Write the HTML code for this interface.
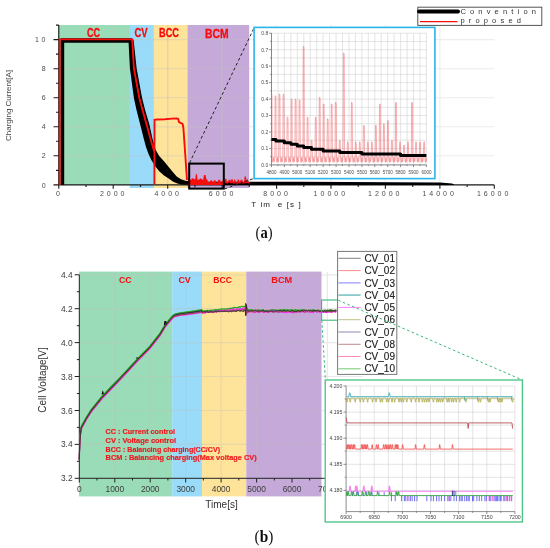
<!DOCTYPE html>
<html lang="en">
<head>
<meta charset="utf-8">
<title>Charging current and cell voltage</title>
<style>
html,body{margin:0;padding:0;background:#fff;}
body{width:550px;height:548px;overflow:hidden;font-family:'Liberation Sans',Arial,sans-serif;}
svg{display:block;}
</style>
</head>
<body>
<svg width="550" height="548" viewBox="0 0 550 548">
<defs><filter id="soft" x="0" y="0" width="550" height="548" filterUnits="userSpaceOnUse"><feGaussianBlur stdDeviation="0.42"/></filter></defs>
<rect width="550" height="548" fill="#fff"/>
<g filter="url(#soft)">
<g id="top">
<rect x="58" y="25" width="72" height="160" fill="#9bdcb8"/>
<rect x="129.8" y="25" width="24.2" height="163" fill="#99dbf8"/>
<rect x="153.8" y="25" width="33.9" height="163" fill="#fee49b"/>
<rect x="187.5" y="25" width="61.7" height="163" fill="#c4a9d9"/>
<path d="M113.2 25V184.9M167.7 25V184.9M222.1 25V184.9" stroke="#c2c2c2" stroke-opacity=".5" stroke-width="1.3" fill="none"/>
<path d="M58.8 155.8H249.2M58.8 126.8H249.2M58.8 97.7H249.2M58.8 68.7H249.2M58.8 39.6H249.2" stroke="#c8c0c0" stroke-opacity=".38" stroke-width="1.2" fill="none"/>
<path d="M276.6 25V184.9M331 25V184.9M385.4 25V184.9M439.9 25V184.9M249.2 155.8H494.3M249.2 126.8H494.3M249.2 97.7H494.3M249.2 68.7H494.3M249.2 39.6H494.3" stroke="#c2c2c2" stroke-opacity=".3" stroke-width="1.1" fill="none"/>
<path d="M58.8 25V184.9M53.5 184.9H494.3M58.8 184.9h-5.3M58.8 170.4h-2.8M58.8 155.8h-5.3M58.8 141.3h-2.8M58.8 126.8h-5.3M58.8 112.3h-2.8M58.8 97.7h-5.3M58.8 83.2h-2.8M58.8 68.7h-5.3M58.8 54.1h-2.8M58.8 39.6h-5.3M58.8 25.1h-2.8M58.8 184.9v3.8M86 184.9v2M113.2 184.9v3.8M140.5 184.9v2M167.7 184.9v3.8M194.9 184.9v2M222.1 184.9v3.8M249.3 184.9v2M276.6 184.9v3.8M303.8 184.9v2M331 184.9v3.8M358.2 184.9v2M385.4 184.9v3.8M412.7 184.9v2M439.9 184.9v3.8M467.1 184.9v2M494.3 184.9v3.8" stroke="#1a1a1a" stroke-width="1.1" fill="none"/>
<g font-family="'Liberation Sans', Arial, sans-serif" font-size="7" fill="#4c4c4c">
<text x="45.6" y="187.5" text-anchor="end">0</text>
<text x="45.6" y="158.4" text-anchor="end">2</text>
<text x="45.6" y="129.4" text-anchor="end">4</text>
<text x="45.6" y="100.3" text-anchor="end">6</text>
<text x="45.6" y="71.3" text-anchor="end">8</text>
<text x="45.4" y="42.2" text-anchor="end" textLength="10.4">10</text>
<text x="58" y="196" text-anchor="middle">0</text>
<text x="99.9" y="196" textLength="24.6">2000</text>
<text x="154.4" y="196" textLength="24.6">4000</text>
<text x="208.8" y="196" textLength="24.6">6000</text>
<text x="263.3" y="196" textLength="24.6">8000</text>
<text x="313.6" y="196" textLength="31.5">10000</text>
<text x="368" y="196" textLength="31.5">12000</text>
<text x="422.4" y="196" textLength="31.5">14000</text>
<text x="476.9" y="196" textLength="31.5">16000</text>
</g>
<text font-family="'Liberation Sans', Arial, sans-serif" font-size="8" fill="#444" transform="translate(11 105.5) rotate(-90)" text-anchor="middle" textLength="71">Charging Current[A]</text>
<text font-family="'Liberation Sans', Arial, sans-serif" font-size="8" fill="#222" x="251.2" y="207.4" textLength="49.5" xml:space="preserve" style="white-space:pre">T im  e [s ]</text>
<path d="M60.6 184.9 L60.6 38.2 L131.6 38.2 L133.6 40 L136.6 68.2 L142.1 97.9 L145.1 110 L149.4 124.6 L152.6 139.2 L155.5 149.5 L159.2 156 L164 161.2 L168.7 166.9 L172.8 172 L176.7 176.4 L181 179.2 L185.5 180.8 L190 181.6 L190 184.8 L185.5 184.8 L181 184.4 L176.7 183.2 L172.8 181.4 L168.7 178.6 L164 175.4 L159.2 171.2 L155 166 L151.2 159.8 L148.4 153.8 L146 147 L143.9 139.2 L140.2 124.6 L136.5 110 L133.9 97.9 L129.9 68.2 L128.6 42.8 L64.2 42.8 L64.2 184.9Z" fill="#000"/>
<path d="M188 181.8H300L440 182.4L452 183.4L454 184.4V185H188Z" fill="#000"/>
<path d="M59.7 184.9 L59.7 39.4 L132.2 39.4 L133.9 68.2 L139.3 97.9 L142.5 110 L146.6 124.6 L150.6 139.2 L153.6 149.5 L154.4 152 L154.4 184.3 L154.5 119.8 L157 119.5 L165 119.2 L172 118.6 L176.7 118.4 L178.2 119 L179 122.2 L181 123.2 L182.6 124 L183.4 128 L185.2 153.8 L187 180" stroke="#f80c10" stroke-width="1.9" fill="none" stroke-linejoin="miter"/>
<path d="M188 184.9L188 179L188.8 178.9L189.6 179.4L190.4 179.2L191.2 179.9L192 178.2L192.8 178.2L193.6 178.8L194.4 179L195.2 179.6L196 174.1L196.8 174.1L197.6 179.9L198.4 179.4L199.2 179.8L200 178.4L200.8 178.4L201.6 179.1L202.4 179.8L203.2 179.7L204 175L204.8 175L205.6 175L206.4 179.4L207.2 179.3L208 182L208.8 182L209.6 182L210.4 180.5L211.2 180.5L212 180.5L212.8 181.9L213.6 181.9L214.4 180.1L215.2 180.1L216 182.5L216.8 182.5L217.6 182.3L218.4 179.8L219.2 179.8L220 179.8L220.8 182.4L221.6 182.4L222.4 180.5L223.2 180.5L224 182.1L224.5 184.9Z" fill="#f80c10"/>
<path d="M224.5 182.7 L225 182.6 L225.7 178.8 L226.4 182.5 L227.1 183 L227.8 182.4 L228.5 182.4 L229.2 180.5 L229.9 180.5 L230.6 182.7 L231.3 182.7 L232 179.4 L232.7 182.6 L233.4 183 L234.1 183 L234.8 180.8 L235.5 182.9 L236.2 182.8 L236.9 183 L237.6 183 L238.3 179.7 L239 182.9 L239.7 182.7 L240.4 183 L241.1 180.5 L241.8 180.5 L242.5 182.9 L243.2 182.8 L243.9 182.8 L244.6 182.7 L245.3 176.5 L246 182.4 L246.7 182.3 L247.4 180.5 L248.1 182.7 L248.8 182.9 L249.5 182.9 L249.6 183.4" stroke="#f80c10" stroke-width="1.3" fill="none"/>
<g font-family="'Liberation Sans', Arial, sans-serif" font-weight="bold" font-size="12" fill="#f80c10" stroke="#f80c10" stroke-width=".3" text-anchor="middle">
<text x="93.6" y="36.5" textLength="13.2" lengthAdjust="spacingAndGlyphs">CC</text>
<text x="141" y="36.9" textLength="13.2" lengthAdjust="spacingAndGlyphs">CV</text>
<text x="169" y="37.1" textLength="20" lengthAdjust="spacingAndGlyphs">BCC</text>
<text x="216.8" y="37.6" textLength="23.6" lengthAdjust="spacingAndGlyphs">BCM</text>
</g>
<rect x="189.2" y="163.6" width="34.6" height="25" fill="none" stroke="#000" stroke-width="2"/>
<path d="M189.5 163L254 28M224.5 189L254 178.4" stroke="#222" stroke-width="1" stroke-dasharray="3 2.4" fill="none"/>
<rect x="254.1" y="27.4" width="180.8" height="151.2" fill="#fff" stroke="#2cb4ec" stroke-width="1.6"/>
<path d="M271.5 33.2V164.9M278 33.2V164.9M284.4 33.2V164.9M290.9 33.2V164.9M297.3 33.2V164.9M303.8 33.2V164.9M310.2 33.2V164.9M316.7 33.2V164.9M323.1 33.2V164.9M329.6 33.2V164.9M336.1 33.2V164.9M342.5 33.2V164.9M349 33.2V164.9M355.4 33.2V164.9M361.9 33.2V164.9M368.3 33.2V164.9M374.8 33.2V164.9M381.2 33.2V164.9M387.7 33.2V164.9M394.1 33.2V164.9M400.6 33.2V164.9M407.1 33.2V164.9M413.5 33.2V164.9M420 33.2V164.9M426.4 33.2V164.9M271.5 164.9H426.4M271.5 156.7H426.4M271.5 148.4H426.4M271.5 140.2H426.4M271.5 132H426.4M271.5 123.8H426.4M271.5 115.5H426.4M271.5 107.3H426.4M271.5 99.1H426.4M271.5 90.8H426.4M271.5 82.6H426.4M271.5 74.4H426.4M271.5 66.1H426.4M271.5 57.9H426.4M271.5 49.7H426.4M271.5 41.5H426.4M271.5 33.2H426.4" stroke="#c9c9c9" stroke-opacity=".6" stroke-width=".8" fill="none"/>
<path d="M271.5 33.2V164.9H426.4M271.5 164.9h-2.4M271.5 148.4h-2.4M271.5 132h-2.4M271.5 115.5h-2.4M271.5 99.1h-2.4M271.5 82.6h-2.4M271.5 66.1h-2.4M271.5 49.7h-2.4M271.5 33.2h-2.4M271.5 156.7h-1.3M271.5 140.2h-1.3M271.5 123.8h-1.3M271.5 107.3h-1.3M271.5 90.8h-1.3M271.5 74.4h-1.3M271.5 57.9h-1.3M271.5 41.4h-1.3M271.5 164.9v2.2M284.4 164.9v2.2M297.3 164.9v2.2M310.2 164.9v2.2M323.1 164.9v2.2M336.1 164.9v2.2M349 164.9v2.2M361.9 164.9v2.2M374.8 164.9v2.2M387.7 164.9v2.2M400.6 164.9v2.2M413.5 164.9v2.2M426.4 164.9v2.2M278 164.9v1.2M290.9 164.9v1.2M303.8 164.9v1.2M316.7 164.9v1.2M329.6 164.9v1.2M342.5 164.9v1.2M355.4 164.9v1.2M368.3 164.9v1.2M381.2 164.9v1.2M394.1 164.9v1.2M407.1 164.9v1.2M420 164.9v1.2" stroke="#707070" stroke-width=".8" fill="none"/>
<g font-family="'Liberation Sans', Arial, sans-serif" fill="#4a4a4a">
<text x="268.2" y="166.7" font-size="5" text-anchor="end">0.0</text>
<text x="268.2" y="150.2" font-size="5" text-anchor="end">0.1</text>
<text x="268.2" y="133.8" font-size="5" text-anchor="end">0.2</text>
<text x="268.2" y="117.3" font-size="5" text-anchor="end">0.3</text>
<text x="268.2" y="100.9" font-size="5" text-anchor="end">0.4</text>
<text x="268.2" y="84.4" font-size="5" text-anchor="end">0.5</text>
<text x="268.2" y="67.9" font-size="5" text-anchor="end">0.6</text>
<text x="268.2" y="51.5" font-size="5" text-anchor="end">0.7</text>
<text x="268.2" y="35" font-size="5" text-anchor="end">0.8</text>
<text x="271.5" y="173.7" font-size="4.5" text-anchor="middle">4800</text>
<text x="284.4" y="173.7" font-size="4.5" text-anchor="middle">4900</text>
<text x="297.3" y="173.7" font-size="4.5" text-anchor="middle">5000</text>
<text x="310.2" y="173.7" font-size="4.5" text-anchor="middle">5100</text>
<text x="323.1" y="173.7" font-size="4.5" text-anchor="middle">5200</text>
<text x="336.1" y="173.7" font-size="4.5" text-anchor="middle">5300</text>
<text x="349" y="173.7" font-size="4.5" text-anchor="middle">5400</text>
<text x="361.9" y="173.7" font-size="4.5" text-anchor="middle">5500</text>
<text x="374.8" y="173.7" font-size="4.5" text-anchor="middle">5600</text>
<text x="387.7" y="173.7" font-size="4.5" text-anchor="middle">5700</text>
<text x="400.6" y="173.7" font-size="4.5" text-anchor="middle">5800</text>
<text x="413.5" y="173.7" font-size="4.5" text-anchor="middle">5900</text>
<text x="426.4" y="173.7" font-size="4.5" text-anchor="middle">6000</text>
</g>
<path d="M271.5 94.1 L271.7 94.1 L271.9 95.8 L272.2 156.7 L272.7 161.6 L273 162.4 L273.5 157.5 L274 161.6 L274.3 161.6 L274.8 156.7 L275.1 97.4 L275.3 95.8 L275.7 95.8 L275.9 97.4 L276.2 156.7 L276.7 161.6 L277.1 162.4 L277.5 157.5 L278 161.6 L278.4 161.6 L278.8 156.7 L279.1 95.8 L279.3 94.1 L279.7 94.1 L279.9 95.8 L280.2 156.7 L280.7 161.6 L281.1 162.4 L281.5 157.5 L282 161.6 L282.4 161.6 L282.8 156.7 L283.1 95.8 L283.4 94.1 L283.7 94.1 L284 95.8 L284.3 156.7 L284.7 161.6 L285.1 162.4 L285.5 157.5 L286 161.6 L286.4 161.6 L286.8 156.7 L287.1 118.8 L287.4 117.2 L287.8 117.2 L288 118.8 L288.3 156.7 L288.7 161.6 L289.1 162.4 L289.6 157.5 L290 161.6 L290.4 161.6 L290.9 156.7 L291.2 100.7 L291.4 99.1 L291.8 99.1 L292 100.7 L292.3 156.7 L292.7 161.6 L293.1 162.4 L293.6 157.5 L294 161.6 L294.4 161.6 L294.9 156.7 L295.2 100.7 L295.4 99.1 L295.8 99.1 L296 100.7 L296.3 156.7 L296.8 161.6 L297.1 162.4 L297.6 157.5 L298 161.6 L298.4 161.6 L298.9 156.7 L299.2 101.5 L299.4 99.9 L299.8 99.9 L300 101.5 L300.3 156.7 L300.8 161.6 L301.2 162.4 L301.6 157.5 L302.1 161.6 L302.4 161.6 L302.9 156.7 L303.2 48 L303.4 46.4 L303.8 46.4 L304 48 L304.3 156.7 L304.8 161.6 L305.2 162.4 L305.6 157.5 L306.1 161.6 L306.5 161.6 L306.9 156.7 L307.2 118.8 L307.4 117.2 L307.8 117.2 L308 118.8 L308.3 156.7 L308.8 161.6 L309.2 162.4 L309.6 157.5 L310.1 161.6 L310.5 161.6 L310.9 156.7 L311.2 141.9 L311.5 140.2 L311.8 140.2 L312.1 141.9 L312.4 156.7 L312.8 161.6 L313.2 162.4 L313.7 157.5 L314.1 161.6 L314.5 161.6 L315 156.7 L315.3 118.8 L315.5 117.2 L315.9 117.2 L316.1 118.8 L316.4 156.7 L316.8 161.6 L317.2 162.4 L317.7 157.5 L318.1 161.6 L318.5 161.6 L319 156.7 L319.3 99.1 L319.5 97.4 L319.9 97.4 L320.1 99.1 L320.4 156.7 L320.8 161.6 L321.2 162.4 L321.7 157.5 L322.1 161.6 L322.5 161.6 L323 156.7 L323.3 105.6 L323.5 104 L323.9 104 L324.1 105.6 L324.4 156.7 L324.9 161.6 L325.2 162.4 L325.7 157.5 L326.1 161.6 L326.5 161.6 L327 156.7 L327.3 120.5 L327.5 118.8 L327.9 118.8 L328.1 120.5 L328.4 156.7 L328.9 161.6 L329.3 162.4 L329.7 157.5 L330.2 161.6 L330.6 161.6 L331 156.7 L331.3 105.6 L331.5 104 L331.9 104 L332.1 105.6 L332.4 156.7 L332.9 161.6 L333.3 162.4 L333.7 157.5 L334.2 161.6 L334.6 161.6 L335 156.7 L335.3 104 L335.5 102.4 L335.9 102.4 L336.2 104 L336.5 156.7 L336.9 161.6 L337.3 162.4 L337.7 157.5 L338.2 161.6 L338.6 161.6 L339 156.7 L339.3 141.9 L339.6 140.2 L339.9 140.2 L340.2 141.9 L340.5 156.7 L340.9 161.6 L341.3 162.4 L341.8 157.5 L342.2 161.6 L342.6 161.6 L343.1 156.7 L343.4 54.6 L343.6 53 L344 53 L344.2 54.6 L344.5 156.7 L344.9 161.6 L345.3 162.4 L345.8 157.5 L346.2 161.6 L346.6 161.6 L347.1 156.7 L347.4 143.5 L347.6 141.9 L348 141.9 L348.2 143.5 L348.5 156.7 L348.9 161.6 L349.3 162.4 L349.8 157.5 L350.2 161.6 L350.6 161.6 L351.1 156.7 L351.4 104 L351.6 102.4 L352 102.4 L352.2 104 L352.5 156.7 L353 161.6 L353.3 162.4 L353.8 157.5 L354.3 161.6 L354.6 161.6 L355.1 156.7 L355.4 143.5 L355.6 141.9 L356 141.9 L356.2 143.5 L356.5 156.7 L357 161.6 L357.4 162.4 L357.8 157.5 L358.3 161.6 L358.7 161.6 L359.1 156.7 L359.4 143.5 L359.6 141.9 L360 141.9 L360.2 143.5 L360.5 156.7 L361 161.6 L361.4 162.4 L361.8 157.5 L362.3 161.6 L362.7 161.6 L363.1 156.7 L363.4 127 L363.7 125.4 L364 125.4 L364.3 127 L364.6 156.7 L365 161.6 L365.4 162.4 L365.8 157.5 L366.3 161.6 L366.7 161.6 L367.2 156.7 L367.4 143.5 L367.7 141.9 L368.1 141.9 L368.3 143.5 L368.6 156.7 L369 161.6 L369.4 162.4 L369.9 157.5 L370.3 161.6 L370.7 161.6 L371.2 156.7 L371.5 143.5 L371.7 141.9 L372.1 141.9 L372.3 143.5 L372.6 156.7 L373 161.6 L373.4 162.4 L373.9 157.5 L374.3 161.6 L374.7 161.6 L375.2 156.7 L375.5 127 L375.7 125.4 L376.1 125.4 L376.3 127 L376.6 156.7 L377.1 161.6 L377.4 162.4 L377.9 157.5 L378.3 161.6 L378.7 161.6 L379.2 156.7 L379.5 105.6 L379.7 104 L380.1 104 L380.3 105.6 L380.6 156.7 L381.1 161.6 L381.5 162.4 L381.9 157.5 L382.4 161.6 L382.7 161.6 L383.2 156.7 L383.5 125.4 L383.7 123.8 L384.1 123.8 L384.3 125.4 L384.6 156.7 L385.1 161.6 L385.5 162.4 L385.9 157.5 L386.4 161.6 L386.8 161.6 L387.2 156.7 L387.5 122.1 L387.7 120.5 L388.1 120.5 L388.3 122.1 L388.6 156.7 L389.1 161.6 L389.5 162.4 L389.9 157.5 L390.4 161.6 L390.8 161.6 L391.2 156.7 L391.5 141.9 L391.8 140.2 L392.1 140.2 L392.4 141.9 L392.7 156.7 L393.1 161.6 L393.5 162.4 L394 157.5 L394.4 161.6 L394.8 161.6 L395.3 156.7 L395.6 104 L395.8 102.4 L396.2 102.4 L396.4 104 L396.7 156.7 L397.1 161.6 L397.5 162.4 L398 157.5 L398.4 161.6 L398.8 161.6 L399.3 156.7 L399.6 143.5 L399.8 141.9 L400.2 141.9 L400.4 143.5 L400.7 156.7 L401.1 161.6 L401.5 162.4 L402 157.5 L402.4 161.6 L402.8 161.6 L403.3 156.7 L403.6 146.8 L403.8 145.1 L404.2 145.1 L404.4 146.8 L404.7 156.7 L405.2 161.6 L405.5 162.4 L406 157.5 L406.4 161.6 L406.8 161.6 L407.3 156.7 L407.6 143.5 L407.8 141.9 L408.2 141.9 L408.4 143.5 L408.7 156.7 L409.2 161.6 L409.6 162.4 L410 157.5 L410.5 161.6 L410.9 161.6 L411.3 156.7 L411.6 104 L411.8 102.4 L412.2 102.4 L412.4 104 L412.7 156.7 L413.2 161.6 L413.6 162.4 L414 157.5 L414.5 161.6 L414.9 161.6 L415.3 156.7 L415.6 143.5 L415.8 141.9 L416.2 141.9 L416.5 143.5 L416.8 156.7 L417.2 161.6 L417.6 162.4 L418 157.5 L418.5 161.6 L418.9 161.6 L419.3 156.7 L419.6 143.5 L419.9 141.9 L420.2 141.9 L420.5 143.5 L420.8 156.7 L421.2 161.6 L421.6 162.4 L422.1 157.5 L422.5 161.6 L422.9 161.6 L423.4 156.7 L423.7 143.5 L423.9 141.9 L424.3 141.9 L424.5 143.5 L424.8 156.7 L425.2 161.6 L425.6 162.4 L426.1 157.5 L426.5 161.6" stroke="#f4666c" stroke-opacity=".75" stroke-width=".72" fill="none" stroke-linejoin="round"/>
<path d="M271.5 139.4 L276 139.4 L276 141 L284.4 141 L284.4 142.7 L290.9 142.7 L290.9 144.3 L297.3 144.3 L297.3 146 L303.8 146 L303.8 147.6 L311.5 147.6 L311.5 149.3 L323.1 149.3 L323.1 150.9 L339.9 150.9 L339.9 152.6 L361.9 152.6 L361.9 154 L400.6 154 L400.6 155.4 L426.4 155.4" stroke="#000" stroke-width="3" fill="none" stroke-linejoin="round"/>
<rect x="417.8" y="7.2" width="124" height="18.2" fill="#fff" stroke="#555" stroke-width="1"/>
<path d="M419 11.6H458" stroke="#000" stroke-width="4" stroke-linecap="round"/>
<path d="M420 21.6H457.5" stroke="#f80c10" stroke-width="1.3"/>
<g font-family="'Liberation Sans', Arial, sans-serif" font-size="7.5" fill="#333">
<text x="460.4" y="14.3" textLength="75.5">Convention</text>
<text x="460.4" y="23.3" textLength="60.5">proposed</text>
</g>
</g>
<text x="255.6" y="237.8" font-family="'Liberation Serif', serif" font-size="16" fill="#111" textLength="17" lengthAdjust="spacingAndGlyphs">(<tspan font-weight="bold">a</tspan>)</text>
<g id="bottom">
<rect x="79" y="271.6" width="93.3" height="224.8" fill="#9bdcb8"/>
<rect x="172.2" y="271.6" width="29.8" height="224.8" fill="#99dbf8"/>
<rect x="201.9" y="271.6" width="44.5" height="224.8" fill="#fee49b"/>
<rect x="246.3" y="271.6" width="75.2" height="224.8" fill="#c4a9d9"/>
<path d="M114.8 272V478.3M150.2 272V478.3M185.7 272V478.3M221.1 272V478.3M256.6 272V478.3M292 272V478.3M327.4 272V478.3M79.3 444.4H363M79.3 410.5H363M79.3 376.5H363M79.3 342.6H363M79.3 308.7H363M79.3 274.8H363" stroke="#c0bcbc" stroke-opacity=".34" stroke-width="1.2" fill="none"/>
<path d="M79.3 274.8V478.3H340M79.3 478.3h-4.6M79.3 444.4h-4.6M79.3 410.5h-4.6M79.3 376.5h-4.6M79.3 342.6h-4.6M79.3 308.7h-4.6M79.3 274.8h-4.6M79.3 461.3h-2.4M79.3 427.4h-2.4M79.3 393.5h-2.4M79.3 359.6h-2.4M79.3 325.7h-2.4M79.3 291.7h-2.4M79.3 478.3v4.2M97 478.3v2.2M114.8 478.3v4.2M132.5 478.3v2.2M150.2 478.3v4.2M167.9 478.3v2.2M185.7 478.3v4.2M203.4 478.3v2.2M221.1 478.3v4.2M238.8 478.3v2.2M256.6 478.3v4.2M274.3 478.3v2.2M292 478.3v4.2M309.7 478.3v2.2M327.4 478.3v4.2" stroke="#222" stroke-width="1" fill="none"/>
<g font-family="'Liberation Sans', Arial, sans-serif" font-size="8.4" fill="#3c3c3c">
<text x="72.6" y="481.3" text-anchor="end">3.2</text>
<text x="72.6" y="447.4" text-anchor="end">3.4</text>
<text x="72.6" y="413.5" text-anchor="end">3.6</text>
<text x="72.6" y="379.5" text-anchor="end">3.8</text>
<text x="72.6" y="345.6" text-anchor="end">4.0</text>
<text x="72.6" y="311.7" text-anchor="end">4.2</text>
<text x="72.6" y="277.8" text-anchor="end">4.4</text>
<text x="79.3" y="492.4" text-anchor="middle">0</text>
<text x="114.8" y="492.4" text-anchor="middle">1000</text>
<text x="150.2" y="492.4" text-anchor="middle">2000</text>
<text x="185.7" y="492.4" text-anchor="middle">3000</text>
<text x="221.1" y="492.4" text-anchor="middle">4000</text>
<text x="256.6" y="492.4" text-anchor="middle">5000</text>
<text x="292" y="492.4" text-anchor="middle">6000</text>
<text x="327.4" y="492.4" text-anchor="middle">7000</text>
</g>
<text font-family="'Liberation Sans', Arial, sans-serif" font-size="10" fill="#333" x="221.5" y="508" text-anchor="middle">Time[s]</text>
<text font-family="'Liberation Sans', Arial, sans-serif" font-size="10" fill="#333" transform="translate(45.6 380) rotate(-90)" text-anchor="middle">Cell Voltage[V]</text>
<path d="M79.3 459.6 L79.7 444.4 L80.4 433.5 L81.3 427.1 L86.4 417.8 L91.5 409.8 L101.8 397.1 L111.2 387.2 L119.6 378.6 L128.9 368.6 L137.5 359.2 L150 346.5 L160 333.8 L165.3 325 L170.1 319.2 L173.4 315.5 L175.7 314.5 L180.3 313.4 L185.7 312.8 L194.5 311.6 L201.9 310.4 L202 311.9 L202.8 312 L203.7 311.2 L204.6 312 L205.5 312.2 L206.4 310.9 L207.3 311.4 L208.2 311.9 L209 311.3 L209.9 312 L210.8 311.3 L211.7 310.6 L212.6 310.7 L213.5 310.9 L214.4 311.5 L215.3 311.3 L216.1 311.5 L217 310.6 L217.9 310.9 L218.8 310.6 L219.7 311.1 L220.6 311.2 L221.5 310.4 L222.3 310.1 L223.2 310.3 L224.1 310.3 L225 310.2 L225.9 310.3 L226.8 311 L227.7 310.5 L228.5 310.7 L229.4 311.1 L230.3 311.1 L231.2 310.7 L232.1 310.7 L233 310 L233.9 309.6 L234.7 310.3 L235.6 309.6 L236.5 309.5 L237.4 309.5 L238.3 310.3 L239.2 310.4 L240.1 310.4 L241 310.4 L241.8 310.3 L242.7 309.7 L243.6 309.3 L244.5 309.3 L245.4 309.8 L245.6 303.6 L246.3 314.6 L247 310.4 L248 310.2 L249.1 311.4 L250.2 310.4 L251.2 310 L252.3 310.2 L253.4 310.3 L254.4 310.7 L255.5 311.2 L256.6 310.2 L257.6 311 L258.7 310.2 L259.7 309.9 L260.8 310.9 L261.9 310.9 L262.9 309.9 L264 310.3 L265.1 311.3 L266.1 311.3 L267.2 311.3 L268.2 310 L269.3 310.2 L270.4 311.3 L271.4 310.1 L272.5 309.9 L273.6 310.4 L274.6 311 L275.7 310.6 L276.8 311.3 L277.8 311.5 L278.9 309.9 L279.9 310.4 L281 310.7 L282.1 310 L283.1 310.8 L284.2 310.1 L285.3 310.1 L286.3 311.2 L287.4 311.1 L288.5 311.1 L289.5 311.1 L290.6 310.6 L291.6 311.1 L292.7 310.8 L293.8 311.3 L294.8 310 L295.9 310.9 L297 310.8 L298 310.6 L299.1 310 L300.2 310.8 L301.2 310 L302.3 310.7 L303.3 310.6 L304.4 310.7 L305.5 311.5 L306.5 310.8 L307.6 311.2 L308.7 311.5 L309.7 310.2 L310.8 311.3 L311.9 310.7 L312.9 310.3 L314 310.6 L315 311 L316.1 310.7 L317.2 310.6 L318.2 310.2 L319.3 311.4 L320.4 310.6 L321.4 311.1 L322.5 311.1 L323.6 310.2 L324.6 310.7 L325.7 310.6 L326.7 310.3 L327.8 310 L328.9 310.8 L329.9 310.5 L331 310.7 L332.1 310.7 L333.1 310.4 L334.2 310.8 L335.2 310.6 L336.3 310.7" stroke="#f44" stroke-width="1" fill="none" stroke-linejoin="round"/>
<path d="M79.3 459.6 L79.7 444.4 L80.4 434.2 L81.3 427.8 L86.4 418.4 L91.5 410.5 L101.8 397.7 L111.2 387.9 L119.6 379.3 L128.9 369.2 L137.5 359.9 L150 347.2 L160 334.5 L165.3 325.7 L170.1 319.9 L173.4 316.2 L175.7 315.1 L180.3 314.1 L185.7 313.4 L194.5 312.3 L201.9 311.1 L202 311.5 L202.8 311.8 L203.7 311.5 L204.6 311.3 L205.5 312.2 L206.4 311.7 L207.3 311.1 L208.2 311.2 L209 312.1 L209.9 312.1 L210.8 311.6 L211.7 312 L212.6 311.7 L213.5 311.9 L214.4 311 L215.3 310.8 L216.1 310.6 L217 311.6 L217.9 310.8 L218.8 310.8 L219.7 311.4 L220.6 310.4 L221.5 310.2 L222.3 311.1 L223.2 310.1 L224.1 310.8 L225 310.6 L225.9 309.9 L226.8 310 L227.7 310.9 L228.5 310.4 L229.4 310.3 L230.3 310.5 L231.2 310.6 L232.1 310.4 L233 309.8 L233.9 310.7 L234.7 309.9 L235.6 310 L236.5 310.5 L237.4 310 L238.3 309.5 L239.2 309.6 L240.1 310.2 L241 308.9 L241.8 309.1 L242.7 308.8 L243.6 309.9 L244.5 309.6 L245.4 309.9 L245.6 315.5 L246.3 304.5 L247 310.6 L248 311.5 L249.1 311.7 L250.2 311.2 L251.2 310.4 L252.3 310.5 L253.4 311.5 L254.4 311.7 L255.5 310.4 L256.6 311 L257.6 310.7 L258.7 311.8 L259.7 311.8 L260.8 310.8 L261.9 311.2 L262.9 311.8 L264 310.3 L265.1 310.8 L266.1 310.6 L267.2 311.8 L268.2 310.5 L269.3 311.8 L270.4 310.5 L271.4 311.2 L272.5 311.3 L273.6 311 L274.6 310.4 L275.7 311.5 L276.8 311.7 L277.8 311 L278.9 311.5 L279.9 311.7 L281 311.6 L282.1 311.8 L283.1 311.6 L284.2 311.4 L285.3 311.4 L286.3 310.6 L287.4 311.4 L288.5 311.1 L289.5 311.6 L290.6 311.3 L291.6 311.9 L292.7 311.5 L293.8 311.9 L294.8 310.7 L295.9 311 L297 311.6 L298 311.1 L299.1 310.3 L300.2 311.7 L301.2 310.5 L302.3 311.2 L303.3 311.1 L304.4 310.5 L305.5 311.3 L306.5 311.1 L307.6 310.8 L308.7 310.3 L309.7 311.3 L310.8 310.5 L311.9 310.7 L312.9 310.8 L314 311.2 L315 311.3 L316.1 311.8 L317.2 311.7 L318.2 311.8 L319.3 310.7 L320.4 311.5 L321.4 311.6 L322.5 311.8 L323.6 310.5 L324.6 310.4 L325.7 310.8 L326.7 311.4 L327.8 311.5 L328.9 311.4 L329.9 311.1 L331 311.7 L332.1 311.2 L333.1 311.5 L334.2 310.3 L335.2 310.3 L336.3 311" stroke="#33f" stroke-width="1" fill="none" stroke-linejoin="round"/>
<path d="M79.3 459.6 L79.7 444.4 L80.4 434.7 L81.3 428.3 L86.4 418.9 L91.5 411 L101.8 398.2 L111.2 388.4 L119.6 379.8 L128.9 369.8 L137.5 360.4 L150 347.7 L160 335 L165.3 326.2 L170.1 320.4 L173.4 316.7 L175.7 315.7 L180.3 314.6 L185.7 314 L194.5 312.8 L201.9 311.6 L202 312.7 L202.8 311.7 L203.7 312.5 L204.6 312.4 L205.5 312.8 L206.4 312.2 L207.3 312 L208.2 311.9 L209 312.2 L209.9 311.7 L210.8 312.3 L211.7 311.9 L212.6 312 L213.5 311.5 L214.4 311.9 L215.3 311.9 L216.1 311.4 L217 311.5 L217.9 310.9 L218.8 310.9 L219.7 310.5 L220.6 310.6 L221.5 310.4 L222.3 310.1 L223.2 310.7 L224.1 310.7 L225 309.7 L225.9 310.8 L226.8 309.9 L227.7 310 L228.5 310.7 L229.4 309.6 L230.3 309.4 L231.2 309.7 L232.1 309.5 L233 309.3 L233.9 310.1 L234.7 309.5 L235.6 309.5 L236.5 308.9 L237.4 308.9 L238.3 308.8 L239.2 309.1 L240.1 308.6 L241 308.8 L241.8 308.7 L242.7 309.2 L243.6 309.4 L244.5 309.2 L245.4 308.8 L245.6 303.6 L246.3 314.6 L247 312 L248 310.8 L249.1 311.3 L250.2 311.1 L251.2 311.1 L252.3 311 L253.4 311.4 L254.4 312.2 L255.5 310.8 L256.6 310.9 L257.6 311.3 L258.7 311.3 L259.7 311.1 L260.8 312.1 L261.9 311 L262.9 311.8 L264 312.1 L265.1 311.8 L266.1 311 L267.2 311.9 L268.2 310.9 L269.3 310.5 L270.4 311.4 L271.4 311.6 L272.5 311.4 L273.6 311 L274.6 310.9 L275.7 311.2 L276.8 311.1 L277.8 312.1 L278.9 312 L279.9 311.8 L281 310.9 L282.1 311.7 L283.1 311.2 L284.2 312.2 L285.3 312.1 L286.3 311.7 L287.4 311.1 L288.5 311 L289.5 311.1 L290.6 311.7 L291.6 311.3 L292.7 311.4 L293.8 311.4 L294.8 312 L295.9 310.7 L297 311.9 L298 310.5 L299.1 310.6 L300.2 312.2 L301.2 311.4 L302.3 310.8 L303.3 310.6 L304.4 311.4 L305.5 311.7 L306.5 311.8 L307.6 310.6 L308.7 311.8 L309.7 311.2 L310.8 312 L311.9 311.3 L312.9 310.6 L314 312 L315 310.8 L316.1 311.3 L317.2 310.7 L318.2 311 L319.3 311.8 L320.4 310.7 L321.4 311.4 L322.5 312.2 L323.6 312.2 L324.6 311.4 L325.7 311.4 L326.7 311.7 L327.8 312 L328.9 311.6 L329.9 311.7 L331 310.8 L332.1 312.2 L333.1 310.9 L334.2 310.8 L335.2 312 L336.3 310.6" stroke="#4aa" stroke-width="1" fill="none" stroke-linejoin="round"/>
<path d="M79.3 459.6 L79.7 444.4 L80.4 433.2 L81.3 426.7 L86.4 417.4 L91.5 409.4 L101.8 396.7 L111.2 386.9 L119.6 378.2 L128.9 368.2 L137.5 358.9 L150 346.2 L160 333.5 L165.3 324.6 L170.1 318.9 L173.4 315.1 L175.7 314.1 L180.3 313.1 L185.7 312.4 L194.5 311.2 L201.9 310.1 L202 311.2 L202.8 310.9 L203.7 311.7 L204.6 311.6 L205.5 311.5 L206.4 310.7 L207.3 311.2 L208.2 311.5 L209 311.4 L209.9 311.6 L210.8 311.9 L211.7 311.8 L212.6 310.8 L213.5 311.5 L214.4 310.6 L215.3 311.5 L216.1 311.5 L217 311.1 L217.9 311.5 L218.8 311.3 L219.7 310.5 L220.6 310.5 L221.5 310.6 L222.3 310.8 L223.2 310.4 L224.1 310.4 L225 310.9 L225.9 310.6 L226.8 311.5 L227.7 310.6 L228.5 310.9 L229.4 310.5 L230.3 310.6 L231.2 311.1 L232.1 311.4 L233 310.2 L233.9 311.2 L234.7 310.8 L235.6 310.9 L236.5 311 L237.4 310.3 L238.3 310 L239.2 310.9 L240.1 310.4 L241 310.8 L241.8 310.5 L242.7 310.7 L243.6 311 L244.5 311 L245.4 310.9 L245.6 303.6 L246.3 314.6 L247 309.8 L248 310.5 L249.1 311 L250.2 309.8 L251.2 309.7 L252.3 310.6 L253.4 311.1 L254.4 311 L255.5 311.2 L256.6 310.8 L257.6 311.2 L258.7 311 L259.7 310.9 L260.8 310.4 L261.9 309.9 L262.9 310.1 L264 310.7 L265.1 310.7 L266.1 310.5 L267.2 310.7 L268.2 310.8 L269.3 311.3 L270.4 310.9 L271.4 309.7 L272.5 311.1 L273.6 310.5 L274.6 310.3 L275.7 309.9 L276.8 311 L277.8 310.9 L278.9 310.9 L279.9 310.7 L281 310.6 L282.1 309.7 L283.1 309.9 L284.2 309.9 L285.3 311.3 L286.3 311.3 L287.4 310.2 L288.5 309.8 L289.5 310.6 L290.6 310.4 L291.6 311.4 L292.7 310.7 L293.8 309.8 L294.8 310 L295.9 309.9 L297 309.7 L298 310.9 L299.1 311.2 L300.2 311.1 L301.2 310.5 L302.3 310.2 L303.3 309.8 L304.4 310.1 L305.5 310.3 L306.5 310.1 L307.6 310.6 L308.7 310.4 L309.7 311.3 L310.8 310 L311.9 311 L312.9 309.8 L314 310.3 L315 310.8 L316.1 311.1 L317.2 310.9 L318.2 310.3 L319.3 310.2 L320.4 311.2 L321.4 311.2 L322.5 310.5 L323.6 310.4 L324.6 310.7 L325.7 311 L326.7 310.3 L327.8 311.3 L328.9 310.9 L329.9 310.6 L331 309.7 L332.1 310.3 L333.1 309.9 L334.2 310.6 L335.2 311 L336.3 310.9" stroke="#994" stroke-width="1" fill="none" stroke-linejoin="round"/>
<path d="M79.3 459.6 L79.7 444.4 L80.4 433.7 L81.3 427.3 L86.4 417.9 L91.5 410 L101.8 397.2 L111.2 387.4 L119.6 378.7 L128.9 368.7 L137.5 359.4 L150 346.7 L160 334 L165.3 325.2 L170.1 319.4 L173.4 315.7 L175.7 314.6 L180.3 313.6 L185.7 312.9 L194.5 311.8 L201.9 310.6 L202 311.2 L202.8 311.5 L203.7 312 L204.6 312.3 L205.5 311.6 L206.4 311.4 L207.3 311.7 L208.2 311.8 L209 311.2 L209.9 310.9 L210.8 311.8 L211.7 312 L212.6 311.5 L213.5 311.4 L214.4 311 L215.3 311.6 L216.1 310.8 L217 310.8 L217.9 311.1 L218.8 311.4 L219.7 310.4 L220.6 311.2 L221.5 310.5 L222.3 311.2 L223.2 311.2 L224.1 310.5 L225 311 L225.9 310.1 L226.8 310.7 L227.7 311.1 L228.5 311 L229.4 310.7 L230.3 310.3 L231.2 309.9 L232.1 310.9 L233 310.6 L233.9 310.8 L234.7 309.7 L235.6 310.8 L236.5 310.9 L237.4 310.8 L238.3 310.3 L239.2 309.6 L240.1 309.6 L241 309.7 L241.8 309.3 L242.7 309.4 L243.6 310.2 L244.5 310.3 L245.4 309.3 L245.6 315.5 L246.3 304.5 L247 310.4 L248 311.6 L249.1 310.5 L250.2 311 L251.2 311 L252.3 311.1 L253.4 311.4 L254.4 311.6 L255.5 311.2 L256.6 311 L257.6 310 L258.7 311.4 L259.7 310 L260.8 311.3 L261.9 311 L262.9 310.2 L264 310.2 L265.1 310.9 L266.1 311.6 L267.2 310.8 L268.2 311 L269.3 310.1 L270.4 311.3 L271.4 311 L272.5 310.1 L273.6 311.6 L274.6 310.9 L275.7 310.3 L276.8 310.3 L277.8 311.6 L278.9 311.6 L279.9 311.5 L281 310.1 L282.1 311.2 L283.1 310.4 L284.2 310.1 L285.3 311.1 L286.3 311.2 L287.4 310 L288.5 310.6 L289.5 311.2 L290.6 310.4 L291.6 311.1 L292.7 311.2 L293.8 311.6 L294.8 310.4 L295.9 310.1 L297 310.6 L298 310 L299.1 311.6 L300.2 311.2 L301.2 310.8 L302.3 310 L303.3 310 L304.4 311 L305.5 311.2 L306.5 310.9 L307.6 310.8 L308.7 310.1 L309.7 311.3 L310.8 310.3 L311.9 310.4 L312.9 310.2 L314 310.3 L315 310.6 L316.1 311.1 L317.2 311.1 L318.2 311 L319.3 310.3 L320.4 311.5 L321.4 311.3 L322.5 310.4 L323.6 311.2 L324.6 311.5 L325.7 311.6 L326.7 310.7 L327.8 311.1 L328.9 310 L329.9 310.1 L331 310 L332.1 311.2 L333.1 311.5 L334.2 311.5 L335.2 310.8 L336.3 310.4" stroke="#448" stroke-width="1" fill="none" stroke-linejoin="round"/>
<path d="M79.3 459.6 L79.7 444.4 L80.4 435.2 L81.3 428.8 L86.4 419.4 L91.5 411.5 L101.8 398.8 L111.2 388.9 L119.6 380.3 L128.9 370.3 L137.5 360.9 L150 348.2 L160 335.5 L165.3 326.7 L170.1 320.9 L173.4 317.2 L175.7 316.2 L180.3 315.1 L185.7 314.5 L194.5 313.3 L201.9 312.1 L202 312.8 L202.8 313 L203.7 312.7 L204.6 312.3 L205.5 312.2 L206.4 312 L207.3 311.8 L208.2 311.9 L209 312.6 L209.9 311.5 L210.8 312.2 L211.7 311.8 L212.6 312 L213.5 311.4 L214.4 312 L215.3 311.9 L216.1 311.8 L217 311.9 L217.9 310.8 L218.8 311.1 L219.7 311.4 L220.6 311.2 L221.5 310.3 L222.3 310.9 L223.2 311.2 L224.1 310.4 L225 310.5 L225.9 310 L226.8 311.1 L227.7 310.5 L228.5 310 L229.4 309.9 L230.3 309.7 L231.2 310.8 L232.1 310.4 L233 310.5 L233.9 310.4 L234.7 309.2 L235.6 309.7 L236.5 309.1 L237.4 309.8 L238.3 309.1 L239.2 309.5 L240.1 309.7 L241 308.9 L241.8 308.6 L242.7 309.7 L243.6 309 L244.5 308.8 L245.4 309.3 L245.6 315.5 L246.3 304.5 L247 311.9 L248 312.2 L249.1 312.1 L250.2 312 L251.2 311.5 L252.3 311.4 L253.4 312.1 L254.4 312.5 L255.5 311.9 L256.6 311.3 L257.6 312.2 L258.7 312 L259.7 312.1 L260.8 311.1 L261.9 311.6 L262.9 312.4 L264 312.3 L265.1 311.8 L266.1 311.5 L267.2 311.4 L268.2 312.3 L269.3 312.2 L270.4 311.3 L271.4 311.8 L272.5 312 L273.6 312 L274.6 310.9 L275.7 312 L276.8 311.5 L277.8 311.9 L278.9 311.8 L279.9 311 L281 310.8 L282.1 311.9 L283.1 312.1 L284.2 311.2 L285.3 312.1 L286.3 312.5 L287.4 311 L288.5 311.8 L289.5 311.1 L290.6 311.8 L291.6 311 L292.7 311.7 L293.8 312.2 L294.8 312.5 L295.9 311.5 L297 311.4 L298 310.9 L299.1 312.3 L300.2 311.4 L301.2 311.9 L302.3 311.6 L303.3 312.2 L304.4 312 L305.5 311.6 L306.5 310.9 L307.6 312.3 L308.7 311.7 L309.7 311.1 L310.8 310.8 L311.9 312.1 L312.9 312.3 L314 310.9 L315 310.8 L316.1 311.7 L317.2 312.4 L318.2 310.9 L319.3 311.8 L320.4 310.9 L321.4 311.4 L322.5 311.1 L323.6 312.2 L324.6 311.1 L325.7 312.1 L326.7 311.8 L327.8 311 L328.9 311.1 L329.9 312.2 L331 312.1 L332.1 311.8 L333.1 311.6 L334.2 311.8 L335.2 312.3 L336.3 312.1" stroke="#f48" stroke-width="1" fill="none" stroke-linejoin="round"/>
<path d="M79.3 459.6 L79.7 444.4 L80.4 432.8 L81.3 426.4 L86.4 417.1 L91.5 409.1 L101.8 396.4 L111.2 386.5 L119.6 377.9 L128.9 367.9 L137.5 358.6 L150 345.8 L160 333.1 L165.3 324.3 L170.1 318.5 L173.4 314.8 L175.7 313.8 L180.3 312.8 L185.7 312.1 L194.5 310.9 L201.9 309.7 L202 311 L202.8 310.6 L203.7 311.7 L204.6 310.9 L205.5 310.5 L206.4 311.4 L207.3 310.2 L208.2 311.1 L209 310.4 L209.9 310.3 L210.8 310.1 L211.7 310.5 L212.6 310.2 L213.5 309.9 L214.4 310 L215.3 309.6 L216.1 309.8 L217 309.7 L217.9 310.2 L218.8 309.3 L219.7 309.4 L220.6 309.6 L221.5 308.8 L222.3 308.7 L223.2 309 L224.1 309.3 L225 308.8 L225.9 309.2 L226.8 309.1 L227.7 308.6 L228.5 309 L229.4 308.4 L230.3 308.2 L231.2 308.7 L232.1 307.8 L233 308.5 L233.9 307.5 L234.7 307.4 L235.6 307.6 L236.5 308.1 L237.4 307.4 L238.3 307.5 L239.2 306.6 L240.1 307.7 L241 306.6 L241.8 306.3 L242.7 306.6 L243.6 306.4 L244.5 307.1 L245.4 305.9 L245.6 303.6 L246.3 314.6 L247 310.3 L248 309.6 L249.1 309.6 L250.2 310.9 L251.2 309.8 L252.3 309.6 L253.4 311.1 L254.4 310.6 L255.5 309.9 L256.6 310.9 L257.6 309.7 L258.7 310.7 L259.7 309.8 L260.8 310.9 L261.9 310.3 L262.9 309.6 L264 310.8 L265.1 310.7 L266.1 310.3 L267.2 310.6 L268.2 311.1 L269.3 310.9 L270.4 310.9 L271.4 309.6 L272.5 310 L273.6 309.7 L274.6 310.9 L275.7 309.8 L276.8 311 L277.8 310.3 L278.9 310.1 L279.9 310.6 L281 309.7 L282.1 310.2 L283.1 310.2 L284.2 309.7 L285.3 311 L286.3 309.5 L287.4 310.1 L288.5 310.5 L289.5 309.8 L290.6 310.7 L291.6 309.5 L292.7 310.2 L293.8 310.6 L294.8 309.9 L295.9 310.4 L297 310.9 L298 309.9 L299.1 311.1 L300.2 309.8 L301.2 310.7 L302.3 310.1 L303.3 309.5 L304.4 310.2 L305.5 310.1 L306.5 310.6 L307.6 311.2 L308.7 311.1 L309.7 310.9 L310.8 310.1 L311.9 310.4 L312.9 310.3 L314 309.7 L315 311 L316.1 310.8 L317.2 310.1 L318.2 311.1 L319.3 311.2 L320.4 310.6 L321.4 311 L322.5 310.6 L323.6 310.8 L324.6 310.2 L325.7 310.2 L326.7 310.8 L327.8 310.1 L328.9 310.4 L329.9 310.9 L331 309.6 L332.1 310.8 L333.1 310.9 L334.2 311 L335.2 310.1 L336.3 309.7" stroke="#2a2" stroke-width="1.2" fill="none" stroke-linejoin="round"/>
<path d="M79.3 459.6 L79.7 444.4 L80.4 435.6 L81.3 429.1 L86.4 419.8 L91.5 411.8 L101.8 399.1 L111.2 389.3 L119.6 380.6 L128.9 370.6 L137.5 361.3 L150 348.6 L160 335.8 L165.3 327 L170.1 321.3 L173.4 317.5 L175.7 316.5 L180.3 315.5 L185.7 314.8 L194.5 313.6 L201.9 312.4 L202 312.5 L202.8 312.9 L203.7 313 L204.6 313.3 L205.5 312.3 L206.4 312.3 L207.3 312.5 L208.2 312 L209 312.2 L209.9 311.5 L210.8 311.6 L211.7 312.2 L212.6 311.2 L213.5 312.3 L214.4 311.5 L215.3 311.6 L216.1 311.7 L217 311.9 L217.9 310.8 L218.8 311.7 L219.7 310.9 L220.6 310.3 L221.5 311.3 L222.3 311.1 L223.2 310.5 L224.1 310.5 L225 310.2 L225.9 309.9 L226.8 310.7 L227.7 310.4 L228.5 310.3 L229.4 310.6 L230.3 309.3 L231.2 309.4 L232.1 309.4 L233 310.2 L233.9 309 L234.7 309 L235.6 309.3 L236.5 308.8 L237.4 309.1 L238.3 309.4 L239.2 309.4 L240.1 309.2 L241 309.3 L241.8 308.8 L242.7 308.2 L243.6 308.1 L244.5 307.8 L245.4 307.9 L245.6 315.5 L246.3 304.5 L247 312.2 L248 311.7 L249.1 311.9 L250.2 311.3 L251.2 311.8 L252.3 312.2 L253.4 311.6 L254.4 311 L255.5 312.3 L256.6 311.2 L257.6 312.6 L258.7 312.2 L259.7 312.3 L260.8 311.4 L261.9 311.1 L262.9 311.4 L264 312.1 L265.1 311.2 L266.1 312.1 L267.2 312.3 L268.2 311.1 L269.3 311.6 L270.4 311.5 L271.4 311.5 L272.5 311 L273.6 311.9 L274.6 311.2 L275.7 311.5 L276.8 311.2 L277.8 311.9 L278.9 311.4 L279.9 311.7 L281 312.1 L282.1 312.3 L283.1 311.6 L284.2 312.5 L285.3 311.1 L286.3 312.4 L287.4 312.6 L288.5 312.5 L289.5 311.1 L290.6 312.1 L291.6 312.4 L292.7 312.6 L293.8 312.6 L294.8 311.5 L295.9 311.6 L297 311.5 L298 311.4 L299.1 312.6 L300.2 311.7 L301.2 312.1 L302.3 311.3 L303.3 311.3 L304.4 311.2 L305.5 312.6 L306.5 311.2 L307.6 311.1 L308.7 311.1 L309.7 312.5 L310.8 312.3 L311.9 312.5 L312.9 312.6 L314 311.2 L315 311.3 L316.1 311.6 L317.2 311.3 L318.2 311.6 L319.3 312.2 L320.4 312.5 L321.4 312.5 L322.5 311.4 L323.6 312.3 L324.6 312.1 L325.7 311.9 L326.7 312.6 L327.8 312.2 L328.9 312.2 L329.9 311.5 L331 312 L332.1 312.1 L333.1 311 L334.2 311.8 L335.2 311.2 L336.3 311.6" stroke="#f3f" stroke-width="1.2" fill="none" stroke-linejoin="round"/>
<path d="M79.3 459.6 L79.7 444.4 L80.4 435.1 L81.3 428.6 L86.4 419.3 L91.5 411.3 L101.8 398.6 L111.2 388.8 L119.6 380.1 L128.9 370.1 L137.5 360.8 L150 348 L160 335.3 L165.3 326.5 L170.1 320.7 L173.4 317 L175.7 316 L180.3 315 L185.7 314.3 L194.5 313.1 L201.9 311.9 L202 313.2 L202.8 312.7 L203.7 312.6 L204.6 312.1 L205.5 312.6 L206.4 312 L207.3 312.2 L208.2 312.6 L209 311.6 L209.9 312.6 L210.8 311.6 L211.7 312.4 L212.6 312.6 L213.5 312.2 L214.4 311.4 L215.3 311.1 L216.1 312.3 L217 311.6 L217.9 311.6 L218.8 311.1 L219.7 311.9 L220.6 311.4 L221.5 311.5 L222.3 310.8 L223.2 311.5 L224.1 310.5 L225 311.4 L225.9 311.4 L226.8 310.7 L227.7 310.9 L228.5 311.4 L229.4 310.6 L230.3 311.3 L231.2 310.3 L232.1 310.4 L233 310.2 L233.9 310.3 L234.7 310.6 L235.6 310.5 L236.5 310.5 L237.4 309.7 L238.3 310.8 L239.2 309.6 L240.1 310.7 L241 310.4 L241.8 310.3 L242.7 309.4 L243.6 309.9 L244.5 310 L245.4 309.2 L245.6 303.6 L246.3 314.6 L247 312 L248 311.6 L249.1 311.5 L250.2 311.1 L251.2 311.1 L252.3 311.3 L253.4 311.8 L254.4 311.8 L255.5 312.1 L256.6 311 L257.6 311.3 L258.7 311.1 L259.7 312.1 L260.8 311.6 L261.9 311.1 L262.9 311.4 L264 312.2 L265.1 311.6 L266.1 310.9 L267.2 312 L268.2 312.1 L269.3 311.9 L270.4 311.2 L271.4 311 L272.5 312.1 L273.6 312.1 L274.6 312 L275.7 311.8 L276.8 311.5 L277.8 312.1 L278.9 311.8 L279.9 312.1 L281 310.7 L282.1 311.2 L283.1 312.2 L284.2 310.8 L285.3 312.2 L286.3 311.7 L287.4 310.7 L288.5 311 L289.5 311.1 L290.6 311.7 L291.6 312.1 L292.7 311.3 L293.8 312.2 L294.8 312 L295.9 311.7 L297 312.3 L298 311.7 L299.1 311 L300.2 311.2 L301.2 311.5 L302.3 311.3 L303.3 311.6 L304.4 312.1 L305.5 311.4 L306.5 311.7 L307.6 311.1 L308.7 310.8 L309.7 311.7 L310.8 311.4 L311.9 311.1 L312.9 311.7 L314 312 L315 311.2 L316.1 310.9 L317.2 311.1 L318.2 311.2 L319.3 310.9 L320.4 311.2 L321.4 311.3 L322.5 311.6 L323.6 311.9 L324.6 311.3 L325.7 312.2 L326.7 311.7 L327.8 311.1 L328.9 311.2 L329.9 311.3 L331 312 L332.1 311.7 L333.1 311.6 L334.2 311.3 L335.2 311.7 L336.3 311.2" stroke="#944" stroke-width="1" fill="none" stroke-linejoin="round"/>
<path d="M79.3 459.6 L79.7 444.4 L80.4 433.9 L81.3 427.4 L86.4 418.1 L91.5 410.1 L101.8 397.4 L111.2 387.6 L119.6 378.9 L128.9 368.9 L137.5 359.6 L150 346.9 L160 334.1 L165.3 325.3 L170.1 319.6 L173.4 315.8 L175.7 314.8 L180.3 313.8 L185.7 313.1 L194.5 311.9 L201.9 310.7 L202 311.3 L202.8 312.3 L203.7 311.6 L204.6 311.4 L205.5 312 L206.4 311.8 L207.3 311.1 L208.2 312.4 L209 311.7 L209.9 312.2 L210.8 311.3 L211.7 311.1 L212.6 311.6 L213.5 312.2 L214.4 311.5 L215.3 311.5 L216.1 311.3 L217 311.5 L217.9 311.3 L218.8 311.1 L219.7 311.4 L220.6 311.6 L221.5 310.8 L222.3 311.8 L223.2 311.1 L224.1 311.5 L225 311 L225.9 311.8 L226.8 310.7 L227.7 311.5 L228.5 311.9 L229.4 311.6 L230.3 311.4 L231.2 311.9 L232.1 311.3 L233 311.3 L233.9 310.9 L234.7 311.3 L235.6 311.4 L236.5 311.5 L237.4 310.7 L238.3 310.5 L239.2 311 L240.1 311.4 L241 310.6 L241.8 311.1 L242.7 311.3 L243.6 311.4 L244.5 310.5 L245.4 310.5 L245.6 315.5 L246.3 304.5 L247 310.7 L248 310.9 L249.1 310.8 L250.2 311.4 L251.2 310.1 L252.3 311.1 L253.4 310.7 L254.4 310.3 L255.5 310.4 L256.6 310.9 L257.6 311.2 L258.7 310.8 L259.7 311.5 L260.8 310.3 L261.9 311.1 L262.9 310.3 L264 311.3 L265.1 311.1 L266.1 311.3 L267.2 311 L268.2 311.4 L269.3 311.7 L270.4 310.5 L271.4 311.3 L272.5 311.3 L273.6 311.2 L274.6 310.9 L275.7 311 L276.8 310.7 L277.8 310.6 L278.9 311.1 L279.9 310.2 L281 310.3 L282.1 311.6 L283.1 310.3 L284.2 310.2 L285.3 310.4 L286.3 311.5 L287.4 310.3 L288.5 310.7 L289.5 311.7 L290.6 311.7 L291.6 310.1 L292.7 310.6 L293.8 311.3 L294.8 311.6 L295.9 311.5 L297 311.3 L298 310.4 L299.1 311.1 L300.2 311.5 L301.2 310.2 L302.3 310.4 L303.3 311.5 L304.4 310.2 L305.5 310.7 L306.5 310.4 L307.6 310.6 L308.7 310.2 L309.7 310.4 L310.8 310.3 L311.9 311.4 L312.9 310.6 L314 310.8 L315 310.5 L316.1 311 L317.2 310.2 L318.2 310.8 L319.3 311.3 L320.4 311.3 L321.4 311.5 L322.5 310.9 L323.6 311.6 L324.6 310.9 L325.7 311.5 L326.7 310.9 L327.8 310.9 L328.9 310.8 L329.9 310.3 L331 311.7 L332.1 310.3 L333.1 310.9 L334.2 310.8 L335.2 310.6 L336.3 310.3" stroke="#333" stroke-width="1" fill="none" stroke-linejoin="round"/>
<path d="M102 394.3l.8 -2.4l.6 2.2M164.4 324.8l.5 -3.2l.9 0l.3 3M136.7 358.7l.6 -1.6" stroke="#111" stroke-width="1.1" fill="none"/>
<g font-family="'Liberation Sans', Arial, sans-serif" font-weight="bold" font-size="9.6" fill="#f80c10" text-anchor="middle">
<text x="125.3" y="283.4" textLength="12.6" lengthAdjust="spacingAndGlyphs">CC</text>
<text x="184.6" y="283.4" textLength="12.4" lengthAdjust="spacingAndGlyphs">CV</text>
<text x="222.6" y="283.4" textLength="18.6" lengthAdjust="spacingAndGlyphs">BCC</text>
<text x="281.8" y="283.4" textLength="21" lengthAdjust="spacingAndGlyphs">BCM</text>
</g>
<g font-family="'Liberation Sans', Arial, sans-serif" font-weight="bold" font-size="7.9" fill="#f01a1e" stroke="#f01a1e" stroke-width=".22">
<text x="105.6" y="433.6" textLength="69.5" lengthAdjust="spacingAndGlyphs">CC : Current control</text>
<text x="105.6" y="443.1" textLength="70.5" lengthAdjust="spacingAndGlyphs">CV : Voltage control</text>
<text x="105.6" y="451.9" textLength="114.5" lengthAdjust="spacingAndGlyphs">BCC : Balancing charging(CC/CV)</text>
<text x="105.6" y="460.2" textLength="151" lengthAdjust="spacingAndGlyphs">BCM : Balancing charging(Max voltage CV)</text>
</g>
<rect x="321.6" y="300" width="16.6" height="20.2" fill="none" stroke="#3cb878" stroke-width="1.1"/>
<rect x="337.6" y="251.4" width="59.2" height="123" fill="#fff" stroke="#777" stroke-width="1"/>
<path d="M338.4 258.3H360.6" stroke="#333" stroke-opacity=".62" stroke-width="1"/>
<text x="364.4" y="261.9" font-family="'Liberation Sans', Arial, sans-serif" font-size="10" fill="#222" stroke="#222" stroke-width=".15">CV_01</text>
<path d="M338.4 270.6H360.6" stroke="#f44" stroke-opacity=".62" stroke-width="1"/>
<text x="364.4" y="274.2" font-family="'Liberation Sans', Arial, sans-serif" font-size="10" fill="#222" stroke="#222" stroke-width=".15">CV_02</text>
<path d="M338.4 282.9H360.6" stroke="#33f" stroke-opacity=".62" stroke-width="1"/>
<text x="364.4" y="286.5" font-family="'Liberation Sans', Arial, sans-serif" font-size="10" fill="#222" stroke="#222" stroke-width=".15">CV_03</text>
<path d="M338.4 295.1H360.6" stroke="#4aa" stroke-opacity=".62" stroke-width="1.8"/>
<text x="364.4" y="298.7" font-family="'Liberation Sans', Arial, sans-serif" font-size="10" fill="#222" stroke="#222" stroke-width=".15">CV_04</text>
<path d="M338.4 307.4H360.6" stroke="#f3f" stroke-opacity=".62" stroke-width="1"/>
<text x="364.4" y="311" font-family="'Liberation Sans', Arial, sans-serif" font-size="10" fill="#222" stroke="#222" stroke-width=".15">CV_05</text>
<path d="M338.4 319.7H360.6" stroke="#994" stroke-opacity=".62" stroke-width="1"/>
<text x="364.4" y="323.3" font-family="'Liberation Sans', Arial, sans-serif" font-size="10" fill="#222" stroke="#222" stroke-width=".15">CV_06</text>
<path d="M338.4 332H360.6" stroke="#448" stroke-opacity=".62" stroke-width="1"/>
<text x="364.4" y="335.6" font-family="'Liberation Sans', Arial, sans-serif" font-size="10" fill="#222" stroke="#222" stroke-width=".15">CV_07</text>
<path d="M338.4 344.3H360.6" stroke="#944" stroke-opacity=".62" stroke-width="1"/>
<text x="364.4" y="347.9" font-family="'Liberation Sans', Arial, sans-serif" font-size="10" fill="#222" stroke="#222" stroke-width=".15">CV_08</text>
<path d="M338.4 356.5H360.6" stroke="#f48" stroke-opacity=".62" stroke-width="1"/>
<text x="364.4" y="360.1" font-family="'Liberation Sans', Arial, sans-serif" font-size="10" fill="#222" stroke="#222" stroke-width=".15">CV_09</text>
<path d="M338.4 368.8H360.6" stroke="#2a2" stroke-opacity=".62" stroke-width="1"/>
<text x="364.4" y="372.4" font-family="'Liberation Sans', Arial, sans-serif" font-size="10" fill="#222" stroke="#222" stroke-width=".15">CV_10</text>
<path d="M338.2 300.2L522.4 380M321.8 320.2L325.4 380" stroke="#3cb878" stroke-width="1" stroke-dasharray="2.6 2.4" fill="none"/>
<rect x="325.2" y="380" width="197.2" height="142" fill="#fff" stroke="#4cc488" stroke-width="1.35"/>
<path d="M360.2 386V511.6M374.2 386V511.6M388.3 386V511.6M402.4 386V511.6M416.4 386V511.6M430.5 386V511.6M444.6 386V511.6M458.6 386V511.6M472.7 386V511.6M486.8 386V511.6M500.8 386V511.6M514.9 386V511.6M346.1 490.4H514.9M346.1 477.3H514.9M346.1 464.3H514.9M346.1 451.2H514.9M346.1 438.2H514.9M346.1 425.1H514.9M346.1 412.1H514.9M346.1 399H514.9M346.1 386H514.9" stroke="#c6c6c6" stroke-opacity=".6" stroke-width=".8" fill="none"/>
<path d="M346.1 386V511.6H514.9M346.1 490.4h-2.6M346.1 464.3h-2.6M346.1 438.2h-2.6M346.1 412.1h-2.6M346.1 386h-2.6M346.1 477.3h-1.4M346.1 451.2h-1.4M346.1 425.1h-1.4M346.1 399h-1.4M346.1 511.6v2.4M374.2 511.6v2.4M402.4 511.6v2.4M430.5 511.6v2.4M458.6 511.6v2.4M486.8 511.6v2.4M514.9 511.6v2.4M360.2 511.6v1.3M388.3 511.6v1.3M416.4 511.6v1.3M444.6 511.6v1.3M472.7 511.6v1.3M500.8 511.6v1.3" stroke="#707070" stroke-width=".8" fill="none"/>
<g font-family="'Liberation Sans', Arial, sans-serif" font-size="5.2" fill="#444">
<text x="342.4" y="492.3" text-anchor="end">4.180</text>
<text x="342.4" y="466.2" text-anchor="end">4.185</text>
<text x="342.4" y="440.1" text-anchor="end">4.190</text>
<text x="342.4" y="414" text-anchor="end">4.195</text>
<text x="342.4" y="387.9" text-anchor="end">4.200</text>
<text x="346.1" y="519.2" text-anchor="middle">6900</text>
<text x="374.2" y="519.2" text-anchor="middle">6950</text>
<text x="402.4" y="519.2" text-anchor="middle">7000</text>
<text x="430.5" y="519.2" text-anchor="middle">7050</text>
<text x="458.6" y="519.2" text-anchor="middle">7100</text>
<text x="486.8" y="519.2" text-anchor="middle">7150</text>
<text x="514.9" y="519.2" text-anchor="middle">7200</text>
</g>
<path d="M346.1 396.6 L348.8 396.6 L349.4 393 L350 393 L350.6 396.6 L388.4 396.6 L389 393 L389.6 393 L390.2 396.6 L512.8 396.6" stroke="#6fc0cc" stroke-width="1.1" fill="none"/>
<path d="M464.5 396.6v4M477.6 396.6v4M487.6 396.6v4M497.5 396.6v4M511.6 396.6v4" stroke="#5fb7c4" stroke-width="1" fill="none"/>
<path d="M346.1 398.1 L346.3 398.1 L346.8 402.1 L347.2 402.1 L347.7 398.1 L349.5 398.1 L350 402.1 L350.4 402.1 L350.9 398.1 L354.5 398.1 L355 402.1 L355.4 402.1 L355.9 398.1 L359.5 398.1 L360 402.1 L360.4 402.1 L360.9 398.1 L362.7 398.1 L363.2 402.1 L363.6 402.1 L364.1 398.1 L366.9 398.1 L367.4 402.1 L367.8 402.1 L368.3 398.1 L371.9 398.1 L372.4 402.1 L372.8 402.1 L373.3 398.1 L375.3 398.1 L375.8 402.1 L376.2 402.1 L376.7 398.1 L379.7 398.1 L380.2 402.1 L380.6 402.1 L381.1 398.1 L381.6 398.1 L382.1 402.1 L382.5 402.1 L383 398.1 L386 398.1 L386.5 402.1 L386.9 402.1 L387.4 398.1 L387.9 398.1 L388.4 402.1 L388.8 402.1 L389.3 398.1 L391.3 398.1 L391.8 402.1 L392.2 402.1 L392.7 398.1 L393.9 398.1 L394.4 402.1 L394.8 402.1 L395.3 398.1 L398.3 398.1 L398.8 402.1 L399.2 402.1 L399.7 398.1 L400.5 398.1 L401 402.1 L401.4 402.1 L401.9 398.1 L402.7 398.1 L403.2 402.1 L403.6 402.1 L404.1 398.1 L406.1 398.1 L406.6 402.1 L407 402.1 L407.5 398.1 L410.5 398.1 L411 402.1 L411.4 402.1 L411.9 398.1 L414.9 398.1 L415.4 402.1 L415.8 402.1 L416.3 398.1 L418.3 398.1 L418.8 402.1 L419.2 402.1 L419.7 398.1 L421.7 398.1 L422.2 402.1 L422.6 402.1 L423.1 398.1 L423.9 398.1 L424.4 402.1 L424.8 402.1 L425.3 398.1 L426.1 398.1 L426.6 402.1 L427 402.1 L427.5 398.1 L428.3 398.1 L428.8 402.1 L429.2 402.1 L429.7 398.1 L432.7 398.1 L433.2 402.1 L433.6 402.1 L434.1 398.1 L436.1 398.1 L436.6 402.1 L437 402.1 L437.5 398.1 L438 398.1 L438.5 402.1 L438.9 402.1 L439.4 398.1 L439.9 398.1 L440.4 402.1 L440.8 402.1 L441.3 398.1 L442.1 398.1 L442.6 402.1 L443 402.1 L443.5 398.1 L446.5 398.1 L447 402.1 L447.4 402.1 L447.9 398.1 L448.4 398.1 L448.9 402.1 L449.3 402.1 L449.8 398.1 L451 398.1 L451.5 402.1 L451.9 402.1 L452.4 398.1 L452.9 398.1 L453.4 402.1 L453.8 402.1 L454.3 398.1 L455.5 398.1 L456 402.1 L456.4 402.1 L456.9 398.1 L458.9 398.1 L459.4 402.1 L459.8 402.1 L460.3 398.1 L465.3 398.1 L465.8 402.1 L466.2 402.1 L466.7 398.1 L477.8 398.1 L478.3 402.1 L478.7 402.1 L479.2 398.1 L479.8 398.1 L480.3 402.1 L480.7 402.1 L481.2 398.1 L487.8 398.1 L488.3 402.1 L488.7 402.1 L489.2 398.1 L489.3 398.1 L489.8 402.1 L490.2 402.1 L490.7 398.1 L497.7 398.1 L498.2 402.1 L498.6 402.1 L499.1 398.1 L499.3 398.1 L499.8 402.1 L500.2 402.1 L500.7 398.1 L501.3 398.1 L501.8 402.1 L502.2 402.1 L502.7 398.1 L511.9 398.1 L512.4 402.1 L512.8 402.1 L513.3 398.1 L512.8 398.1" stroke="#aaa646" stroke-width=".75" fill="none"/>
<path d="M346.2 417.5L347 422.9H467.6L468.2 428.4L468.8 422.9H512L512.6 428.6" stroke="#b85860" stroke-width=".95" fill="none"/>
<path d="M346.1 449.1 L346.6 449.1 L347 444.7 L347.4 444.7 L347.8 449.1 L348 449.1 L348.4 444.7 L348.8 444.7 L349.2 449.1 L349.4 449.1 L349.8 444.7 L350.2 444.7 L350.6 449.1 L351 449.1 L351.4 444.7 L351.8 444.7 L352.2 449.1 L352.6 449.1 L353 444.7 L353.4 444.7 L353.8 449.1 L354 449.1 L354.4 444.7 L354.8 444.7 L355.2 449.1 L361 449.1 L361.4 444.7 L361.8 444.7 L362.2 449.1 L362.4 449.1 L362.8 444.7 L363.2 444.7 L363.6 449.1 L364 449.1 L364.4 444.7 L364.8 444.7 L365.2 449.1 L365.4 449.1 L365.8 444.7 L366.2 444.7 L366.6 449.1 L366.8 449.1 L367.2 444.7 L367.6 444.7 L368 449.1 L371.6 449.1 L372 444.7 L372.4 444.7 L372.8 449.1 L375.8 449.1 L376.2 444.7 L376.6 444.7 L377 449.1 L377.6 449.1 L378 444.7 L378.4 444.7 L378.8 449.1 L383 449.1 L383.4 444.7 L383.8 444.7 L384.2 449.1 L384.8 449.1 L385.2 444.7 L385.6 444.7 L386 449.1 L386.4 449.1 L386.8 444.7 L387.2 444.7 L387.6 449.1 L388.4 449.1 L388.8 444.7 L389.2 444.7 L389.6 449.1 L390 449.1 L390.4 444.7 L390.8 444.7 L391.2 449.1 L391.8 449.1 L392.2 444.7 L392.6 444.7 L393 449.1 L394.8 449.1 L395.2 444.7 L395.6 444.7 L396 449.1 L396 449.1 L396.4 444.7 L396.8 444.7 L397.2 449.1 L397.2 449.1 L397.6 444.7 L398 444.7 L398.4 449.1 L402 449.1 L402.4 444.7 L402.8 444.7 L403.2 449.1 L415 449.1 L415.4 444.7 L415.8 444.7 L416.2 449.1 L423.8 449.1 L424.2 444.7 L424.6 444.7 L425 449.1 L439.1 449.1 L439.5 444.7 L439.9 444.7 L440.3 449.1 L451.9 449.1 L452.3 444.7 L452.7 444.7 L453.1 449.1 L512.8 449.1" stroke="#f44848" stroke-width=".8" fill="none"/>
<path d="M346.1 491.2 L349.2 491.2 L349.8 486.2 L350.2 486.2 L350.8 491.2 L355 491.2 L355.6 486.2 L356 486.2 L356.6 491.2 L356 491.2 L356.6 486.2 L357 486.2 L357.6 491.2 L363 491.2 L363.6 486.2 L364 486.2 L364.6 491.2 L371 491.2 L371.6 486.2 L372 486.2 L372.6 491.2 L388.6 491.2 L389.2 486.2 L389.6 486.2 L390.2 491.2 L512.8 491.2" stroke="#f682f4" stroke-width="1.15" fill="none"/>
<path d="M347.6 496v-3.8M352.6 496v-3.8M356.4 496v-3.8M358.4 496v-3.8M363.2 496v-3.8M366.6 496v-3.8M369.8 496v-3.8M372 496v-3.8M379 496v-3.8M384.2 496v-3.8M391.6 496v-3.8M397.6 496v-3.8" stroke="#4a4af2" stroke-width=".8" fill="none"/>
<path d="M391.4 495.8v5.4M395.2 495.8v5.4M401.6 495.8v5.4M404.4 495.8v5.4M405.8 495.8v5.4M407.8 495.8v5.4M410.4 495.8v5.4M412.2 495.8v5.4M414.6 495.8v5.4M417 495.8v5.4M426.8 495.8v5.4M431 495.8v5.4M433.4 495.8v5.4M436.6 495.8v5.4M439 495.8v5.4M441.4 495.8v5.4M444.6 495.8v5.4M447.8 495.8v5.4M449.3 495.8v5.4M450.8 495.8v5.4M454 495.8v5.4M456.4 495.8v5.4M459.6 495.8v5.4M461.1 495.8v5.4M462.3 495.8v5.4M464.7 495.8v5.4M466.6 495.8v5.4M468.1 495.8v5.4M469.3 495.8v5.4M472.5 495.8v5.4M473.7 495.8v5.4M476.9 495.8v5.4M479.3 495.8v5.4M481.7 495.8v5.4M484.9 495.8v5.4M486.4 495.8v5.4M489.6 495.8v5.4M490.8 495.8v5.4M494 495.8v5.4M495.2 495.8v5.4M496.4 495.8v5.4M497.6 495.8v5.4M499.1 495.8v5.4M500.6 495.8v5.4M503.8 495.8v5.4M505 495.8v5.4M507.4 495.8v5.4M509.3 495.8v5.4M511.7 495.8v5.4" stroke="#4a4af2" stroke-width=".8" fill="none"/>
<path d="M409 496v5M449 496v5M489 496v5M492.5 496v5M501.5 496v5M506.5 496v5M510 496v5" stroke="#f45ad0" stroke-width=".8" fill="none"/>
<path d="M346.1 495.6 L346.4 495.6 L346.8 491.6 L347.2 491.6 L347.6 495.6 L347.8 495.6 L348.2 491.6 L348.6 491.6 L349 495.6 L351 495.6 L351.4 491.6 L351.8 491.6 L352.2 495.6 L352.8 495.6 L353.2 491.6 L353.6 491.6 L354 495.6 L356.8 495.6 L357.2 491.6 L357.6 491.6 L358 495.6 L361.8 495.6 L362.2 491.6 L362.6 491.6 L363 495.6 L365 495.6 L365.4 491.6 L365.8 491.6 L366.2 495.6 L368 495.6 L368.4 491.6 L368.8 491.6 L369.2 495.6 L370.6 495.6 L371 491.6 L371.4 491.6 L371.8 495.6 L377 495.6 L377.4 491.6 L377.8 491.6 L378.2 495.6 L389 495.6 L389.4 491.6 L389.8 491.6 L390.2 495.6 L395.6 495.6 L396 491.6 L396.4 491.6 L396.8 495.6 L398 495.6 L398.4 491.6 L398.8 491.6 L399.2 495.6 L512.8 495.6" stroke="#3aa64a" stroke-width=".95" fill="none"/>
<path d="M455.8 495.6v-4.6" stroke="#3aa64a" stroke-width=".9" fill="none"/>
<path d="M452.4 496V490.6M454 496V490.8" stroke="#23238a" stroke-width=".9" fill="none"/>
</g>
<text x="254.6" y="541.8" font-family="'Liberation Serif', serif" font-size="16" fill="#111" textLength="18.8" lengthAdjust="spacingAndGlyphs">(<tspan font-weight="bold">b</tspan>)</text>
</g>
</svg>
</body>
</html>
